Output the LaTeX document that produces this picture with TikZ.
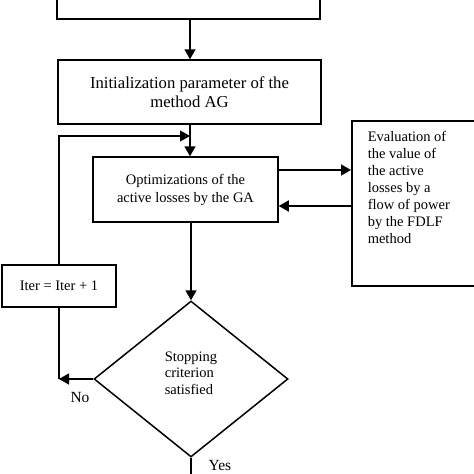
\documentclass[tikz,border=0pt]{standalone}
\usepackage{fontspec}
\setmainfont{Liberation Serif}
\usetikzlibrary{arrows.meta,shapes.geometric,calc}
\begin{document}
\begin{tikzpicture}[x=1pt,y=-1pt,
  every node/.style={font=\fontsize{14.5}{18}\selectfont},
  box/.style={draw,line width=1.5pt,inner sep=0pt,align=center},
  link/.style={line width=1.5pt},
  arr/.style={line width=1.5pt,-{Triangle[length=10pt,width=11pt]}}]
\useasboundingbox (0,0) rectangle (474,474);
\clip (0,0) rectangle (474,474);
\fill[white] (0,0) rectangle (474,474);
% boxes
\node[box,minimum width=263pt,minimum height=40pt] (top) at (188.5,-1) {};
\node[box,minimum width=263pt,minimum height=64pt,font=\fontsize{16.7}{19.5}\selectfont] (init) at (189.5,92)
  {Initialization parameter of the\\method AG};
\node[box,minimum width=185pt,minimum height=65pt] (opt) at (185.5,189.5)
  {Optimizations of the\\active losses by the GA};
\node[box,anchor=north west] (eval) at (351,120)
  {\begin{minipage}[c][165pt][t]{150pt}\raggedright\leftskip=16pt
   \fontsize{14.5}{17}\selectfont\vspace*{11pt}
   Evaluation of\\the value of\\the active\\losses by a\\flow of power\\by the FDLF\\method
   \end{minipage}};
\node[box,minimum width=114pt,minimum height=42pt] (iter) at (59,286) {Iter = Iter + 1};
\node[draw,line width=1.5pt,diamond,minimum width=194pt,minimum height=156pt,
  inner sep=0pt,
  label={[yshift=6pt,align=left,font=\fontsize{14.5}{16.5}\selectfont]center:Stopping\\criterion\\satisfied}]
  (dec) at (191,379) {};
% coordinates
\coordinate (loopin) at (190,136);
\coordinate (nojoin) at (iter.south |- dec.west);
\coordinate (yesend) at (191,490);
% labels
\node[font=\fontsize{15.5}{18}\selectfont] (no) at (80,397) {No};
\node[font=\fontsize{15.5}{18}\selectfont,inner sep=1pt] (yes) at (220,465) {Yes};
% connectors
\draw[arr] (190,0 |- top.south) -- (190,0 |- init.north);
\draw[arr] (190,0 |- init.south) -- (190,0 |- opt.north);
\draw[arr] (iter.north) |- (loopin);
\draw[arr] ([yshift=19.5pt]opt.east) -- ([yshift=19.5pt]opt.east -| eval.west);
\draw[arr] ([yshift=-16.5pt]opt.east -| eval.west) -- ([yshift=-16.5pt]opt.east);
\draw[arr] (opt.south -| dec.north) -- (dec.north);
\draw[link] (iter.south) -- (nojoin);
\draw[arr] (dec.west) -- (nojoin);
\draw[link] (dec.south) -- (yesend);
\end{tikzpicture}
\end{document}
